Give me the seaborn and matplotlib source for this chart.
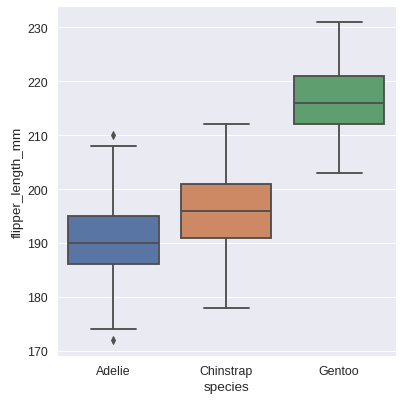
import matplotlib
matplotlib.use("Agg")
import matplotlib.pyplot as plt
import seaborn as sns
import pandas as pd

# Sample flipper lengths per species (chosen to reproduce the box statistics shown)
adelie = [172, 174, 186, 188, 190, 193, 195, 208, 210]
chinstrap = [178, 185, 191, 193, 196, 199, 201, 207, 212]
gentoo = [203, 208, 212, 214, 216, 218, 221, 226, 231]
species_order = ["Adelie", "Chinstrap", "Gentoo"]

rows = []
for name, vals in zip(species_order, [adelie, chinstrap, gentoo]):
    for v in vals:
        rows.append({"species": name, "flipper_length_mm": v})
df = pd.DataFrame(rows)

sns.set_theme(style="darkgrid", font_scale=1.2)
plt.rcParams["font.family"] = ["Liberation Sans", "DejaVu Sans"]
fig = plt.figure(figsize=(6, 5.985), dpi=404 / 6)
ax = fig.add_axes([0.141, 0.114, 0.838, 0.869])
sns.boxplot(data=df, x="species", y="flipper_length_mm", hue="species",
            order=species_order, palette="deep", saturation=0.75,
            linecolor="#4f4f4f", linewidth=2, width=0.8,
            flierprops=dict(marker="d", markersize=6, markerfacecolor="#4f4f4f",
                            markeredgecolor="#4f4f4f"),
            legend=False, ax=ax)
ax.set_ylim(169, 234)
fig.savefig("out.png", dpi=404 / 6)
